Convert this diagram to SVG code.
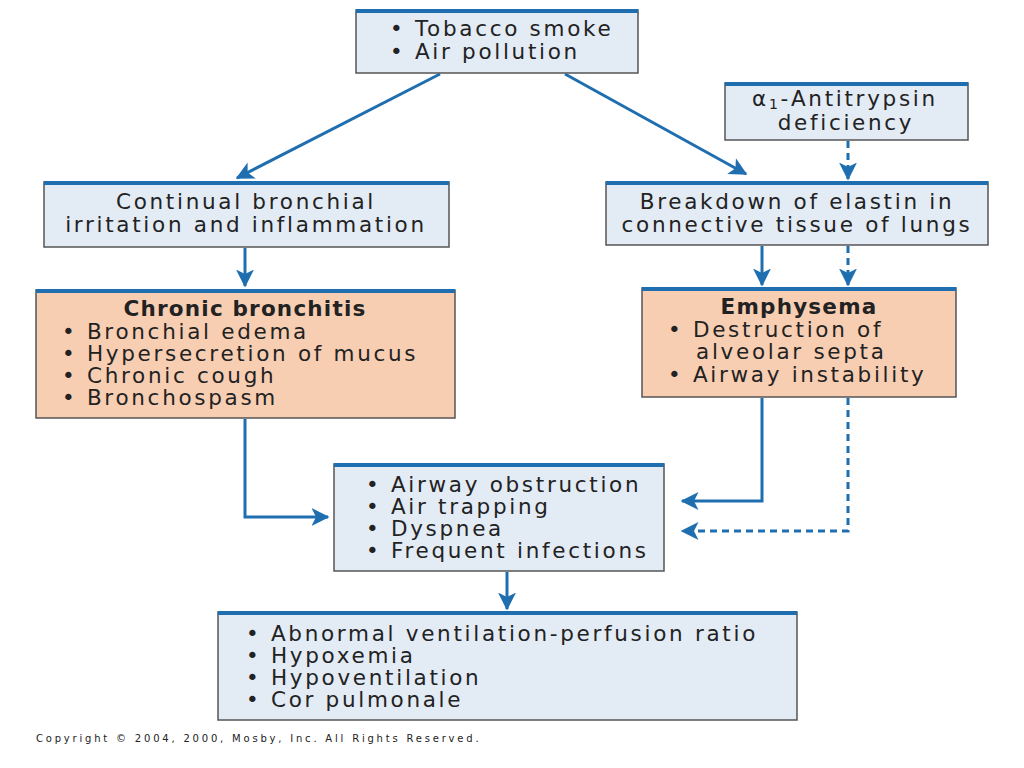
<svg xmlns="http://www.w3.org/2000/svg" width="1024" height="768" viewBox="0 0 1024 768">
<style>
.b{fill:#e3ebf5;stroke:#555;stroke-width:1.5}
.p{fill:#f8ceb3;stroke:#555;stroke-width:1.5}
.t{stroke:#1f6fb0;stroke-width:4}
text{font-family:"DejaVu Sans","Liberation Sans",sans-serif;font-size:21.5px;letter-spacing:2.7px;fill:#222}
.bd{font-weight:bold;letter-spacing:1.2px}
.c{stroke:#1f6fb0;stroke-width:3;fill:none}
.d{stroke-dasharray:7,5}
</style>
<defs>
<marker id="a" viewBox="0 0 12 12" refX="11" refY="6" markerWidth="6" markerHeight="6" orient="auto" markerUnits="strokeWidth">
<path d="M0,0 L12,6 L0,12 L3,6 Z" fill="#1f6fb0"/>
</marker>
</defs>
<rect width="1024" height="768" fill="#fff"/>
<g id="connectors">
<line class="c" x1="440" y1="74" x2="237" y2="178" marker-end="url(#a)"/>
<line class="c" x1="565" y1="74" x2="746" y2="174" marker-end="url(#a)"/>
<line class="c d" x1="848" y1="141" x2="848" y2="179" marker-end="url(#a)"/>
<line class="c" x1="245" y1="248" x2="245" y2="286" marker-end="url(#a)"/>
<line class="c" x1="762" y1="246" x2="762" y2="285" marker-end="url(#a)"/>
<line class="c d" x1="848" y1="246" x2="848" y2="285" marker-end="url(#a)"/>
<polyline class="c" points="245,419 245,517 328,517" marker-end="url(#a)"/>
<polyline class="c" points="762,398 762,501 682,501" marker-end="url(#a)"/>
<polyline class="c d" points="848,398 848,531 682,531" marker-end="url(#a)"/>
<line class="c" x1="507" y1="572" x2="507" y2="609" marker-end="url(#a)"/>
</g>
<g id="n1"><rect class="b" x="356" y="10" width="282" height="63"/><line class="t" x1="356" y1="11" x2="638" y2="11"/>
<text x="390" y="36">• Tobacco smoke</text><text x="390" y="59">• Air pollution</text></g>
<g id="n2"><rect class="b" x="725" y="83" width="243" height="57"/><line class="t" x1="725" y1="84" x2="968" y2="84"/>
<text x="752" y="106">α<tspan font-size="14" dy="3">1</tspan><tspan dy="-3">-Antitrypsin</tspan></text><text x="846" y="130" text-anchor="middle">deficiency</text></g>
<g id="n3"><rect class="b" x="44" y="182" width="405" height="65"/><line class="t" x1="44" y1="183" x2="449" y2="183"/>
<text x="246" y="209" text-anchor="middle">Continual bronchial</text><text x="246" y="232" text-anchor="middle">irritation and inflammation</text></g>
<g id="n4"><rect class="b" x="606" y="182" width="382" height="63"/><line class="t" x1="606" y1="183" x2="988" y2="183"/>
<text x="797" y="209" text-anchor="middle">Breakdown  of elastin in</text><text x="797" y="232" text-anchor="middle">connective tissue of lungs</text></g>
<g id="n5"><rect class="p" x="36" y="290" width="419" height="128"/><line class="t" x1="36" y1="291" x2="455" y2="291"/>
<text x="245" y="316" text-anchor="middle" class="bd">Chronic bronchitis</text>
<text x="62" y="339">• Bronchial edema</text><text x="62" y="361">• Hypersecretion of mucus</text><text x="62" y="383">• Chronic cough</text><text x="62" y="405">• Bronchospasm</text></g>
<g id="n6"><rect class="p" x="642" y="288" width="314" height="109"/><line class="t" x1="642" y1="289" x2="956" y2="289"/>
<text x="799" y="314" text-anchor="middle" class="bd">Emphysema</text>
<text x="668" y="337">• Destruction of</text><text x="696" y="359">alveolar septa</text><text x="668" y="382">• Airway instability</text></g>
<g id="n7"><rect class="b" x="334" y="464" width="330" height="107"/><line class="t" x1="334" y1="465" x2="664" y2="465"/>
<text x="366" y="492">• Airway obstruction</text><text x="366" y="514">• Air trapping</text><text x="366" y="536">• Dyspnea</text><text x="366" y="558">• Frequent infections</text></g>
<g id="n8"><rect class="b" x="218" y="612" width="579" height="108"/><line class="t" x1="218" y1="613" x2="797" y2="613"/>
<text x="246" y="641">• Abnormal ventilation-perfusion ratio</text><text x="246" y="663">• Hypoxemia</text><text x="246" y="685">• Hypoventilation</text><text x="246" y="707">• Cor pulmonale</text></g>
<text x="36" y="742" style="font-size:10px;letter-spacing:2.8px">Copyright © 2004, 2000, Mosby, Inc. All Rights Reserved.</text>
</svg>
